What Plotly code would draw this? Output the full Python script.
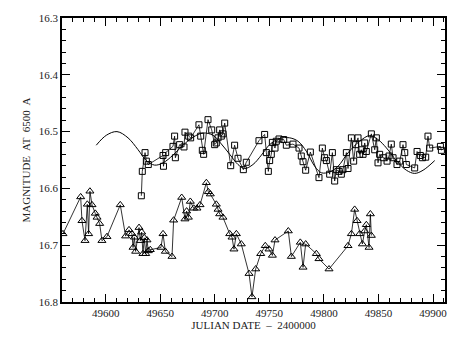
import plotly.graph_objects as go

# Lower series (triangles): Julian date - 2400000, magnitude
tri_jd = [49560.9, 49577.1, 49578.3, 49581.1, 49583.2, 49584.4, 49585.6, 49587.5, 49590.5, 49592.1,
          49594.5, 49596.6, 49601.2, 49613.4, 49618.3, 49621.4, 49624.1, 49625.1, 49626.3, 49627.5,
          49630.6, 49631.8, 49633.0, 49634.2, 49635.4, 49636.7, 49637.9, 49639.1, 49640.9, 49650.7,
          49652.6, 49654.7, 49660.8, 49662.3, 49669.7, 49672.7, 49674.2, 49675.8, 49677.6, 49680.7,
          49683.7, 49686.5, 49692.3, 49694.1, 49695.9, 49701.4, 49703.0, 49704.5, 49707.5, 49713.7,
          49715.8, 49717.6, 49719.8, 49724.3, 49731.4, 49734.1, 49737.5, 49742.1, 49746.3, 49749.7,
          49752.8, 49755.2, 49767.4, 49770.2, 49778.4, 49780.9, 49783.3, 49793.1, 49795.5, 49804.7,
          49822.1, 49825.2, 49828.2, 49830.4, 49832.8, 49835.3, 49837.4, 49838.9, 49841.4, 49842.6,
          49843.5]
tri_mag = [16.680, 16.615, 16.657, 16.692, 16.628, 16.680, 16.605, 16.629, 16.644, 16.651,
           16.662, 16.692, 16.685, 16.629, 16.684, 16.673, 16.680, 16.704, 16.686, 16.711,
           16.669, 16.692, 16.677, 16.715, 16.687, 16.715, 16.691, 16.710, 16.708, 16.704,
           16.680, 16.711, 16.720, 16.656, 16.616, 16.654, 16.640, 16.651, 16.623, 16.635,
           16.635, 16.629, 16.590, 16.606, 16.610, 16.628, 16.637, 16.645, 16.651, 16.680,
           16.686, 16.707, 16.680, 16.698, 16.750, 16.791, 16.742, 16.715, 16.701, 16.707,
           16.718, 16.691, 16.675, 16.720, 16.695, 16.739, 16.698, 16.715, 16.724, 16.742,
           16.701, 16.680, 16.637, 16.657, 16.680, 16.698, 16.675, 16.664, 16.704, 16.645,
           16.683]

# Upper series (squares)
sq_jd = [49632.7, 49633.6, 49636.1, 49637.3, 49639.1, 49652.6, 49653.0, 49655.0, 49661.7, 49663.2,
         49663.9, 49667.8, 49671.8, 49672.7, 49676.1, 49677.9, 49685.5, 49687.1, 49688.6, 49689.8,
         49693.8, 49697.2, 49699.9, 49701.4, 49703.0, 49704.5, 49706.0, 49707.5, 49709.1, 49714.6,
         49718.2, 49721.3, 49726.2, 49728.9, 49740.5, 49745.7, 49747.3, 49749.1, 49750.3, 49751.8,
         49752.8, 49755.2, 49756.4, 49758.9, 49763.2, 49765.6, 49771.7, 49777.2, 49779.3, 49780.9,
         49783.3, 49787.6, 49795.5, 49798.6, 49800.7, 49802.3, 49805.3, 49807.8, 49809.9, 49811.4,
         49813.9, 49816.0, 49817.5, 49820.6, 49822.1, 49825.2, 49827.3, 49829.1, 49831.3, 49832.8,
         49834.3, 49835.9, 49837.4, 49838.9, 49843.5, 49846.6, 49848.1, 49849.6, 49851.1, 49854.8,
         49857.9, 49859.7, 49861.8, 49863.4, 49867.0, 49869.5, 49872.5, 49874.1, 49875.6, 49883.2,
         49885.4, 49888.4, 49890.3, 49893.3, 49895.4, 49897.0, 49906.8, 49907.7]
sq_mag = [16.613, 16.570, 16.537, 16.552, 16.558, 16.542, 16.561, 16.537, 16.526, 16.508,
          16.546, 16.523, 16.527, 16.501, 16.508, 16.511, 16.488, 16.508, 16.533, 16.540,
          16.479, 16.497, 16.523, 16.520, 16.511, 16.497, 16.508, 16.504, 16.485, 16.560,
          16.524, 16.547, 16.567, 16.554, 16.516, 16.505, 16.537, 16.570, 16.551, 16.540,
          16.519, 16.529, 16.517, 16.513, 16.514, 16.524, 16.522, 16.529, 16.543, 16.553,
          16.568, 16.536, 16.581, 16.529, 16.546, 16.551, 16.575, 16.537, 16.587, 16.567,
          16.570, 16.575, 16.567, 16.537, 16.565, 16.511, 16.552, 16.523, 16.511, 16.540,
          16.532, 16.540, 16.520, 16.535, 16.504, 16.532, 16.511, 16.555, 16.540, 16.546,
          16.552, 16.543, 16.522, 16.546, 16.558, 16.552, 16.523, 16.537, 16.558, 16.564,
          16.535, 16.542, 16.546, 16.545, 16.508, 16.529, 16.526, 16.533]

# Smooth model curve
fit_jd = [49591.4, 49600.6, 49610.4, 49620.5, 49629.6, 49637.3, 49644.9, 49652.6, 49661.7, 49670.9,
          49680.0, 49689.2, 49698.4, 49706.0, 49713.7, 49721.3, 49727.4, 49735.0, 49742.7, 49750.3,
          49759.5, 49768.7, 49776.3, 49783.9, 49791.6, 49797.7, 49805.3, 49813.0, 49822.1, 49832.8,
          49842.0, 49849.6, 49857.3, 49866.4, 49875.6, 49883.2, 49890.9, 49901.6]
fit_mag = [16.524, 16.5065, 16.500, 16.511, 16.5316, 16.551, 16.559, 16.555, 16.5415, 16.524,
           16.510, 16.5025, 16.5065, 16.5217, 16.540, 16.558, 16.565, 16.558, 16.5415, 16.523,
           16.512, 16.511, 16.517, 16.5345, 16.561, 16.5725, 16.571, 16.561, 16.5375, 16.517,
           16.507, 16.514, 16.5287, 16.551, 16.568, 16.5736, 16.568, 16.551]

y_ticks = [16.3, 16.4, 16.5, 16.6, 16.7, 16.8]
x_ticks = [49600, 49650, 49700, 49750, 49800, 49850, 49900]

FONT = "Liberation Serif"

fig = go.Figure()
fig.add_trace(go.Scatter(x=fit_jd, y=fit_mag, mode="lines", line=dict(color="black", width=1, shape="spline"),
                         hoverinfo="skip"))
fig.add_trace(go.Scatter(x=sq_jd, y=sq_mag, mode="lines+markers",
                         line=dict(color="black", width=0.8),
                         marker=dict(symbol="square-open", size=6, color="black", line=dict(width=1))))
fig.add_trace(go.Scatter(x=tri_jd, y=tri_mag, mode="lines+markers",
                         line=dict(color="black", width=0.8),
                         marker=dict(symbol="triangle-up-open", size=7, color="black", line=dict(width=1))))

axis_common = dict(showgrid=False, zeroline=False, showline=True, linecolor="black", linewidth=1.5,
                   mirror="allticks", ticks="inside", ticklen=8, tickwidth=1, tickcolor="black",
                   tickfont=dict(family=FONT, size=11, color="#222"))

fig.update_xaxes(range=[49560, 49911], tickvals=x_ticks, ticktext=[str(v) for v in x_ticks],
                 minor=dict(ticks="inside", dtick=10, tick0=49600, ticklen=4, tickcolor="black", tickwidth=1),
                 title=dict(text="JULIAN DATE  \u2013  2400000", font=dict(family=FONT, size=11, color="#222"),
                            standoff=0),
                 **axis_common)
fig.update_yaxes(range=[16.8, 16.3], tickvals=y_ticks, ticktext=[f"{v:.1f}" for v in y_ticks],
                 minor=dict(ticks="inside", dtick=0.02, tick0=16.3, ticklen=4, tickcolor="black", tickwidth=1),
                 title=dict(text="MAGNITUDE  AT  6500  A", font=dict(family=FONT, size=11, color="#222"),
                            standoff=6),
                 **axis_common)

fig.update_layout(width=474, height=349, margin=dict(l=62, r=29, t=16, b=47),
                  paper_bgcolor="white", plot_bgcolor="white", showlegend=False)

fig.write_html("out.html")
